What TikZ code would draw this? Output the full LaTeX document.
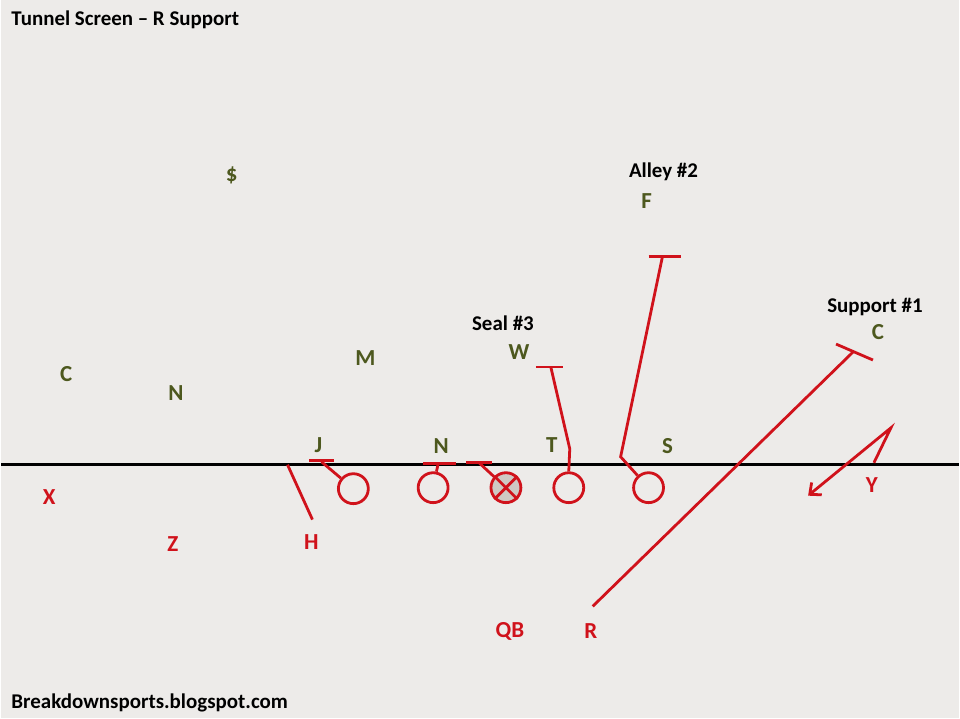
\documentclass[tikz,border=0pt]{standalone}
\usepackage{fontspec}
\setmainfont{Carlito}
\usetikzlibrary{calc}
\usetikzlibrary{positioning}
\usetikzlibrary{arrows.meta}

\definecolor{fieldbg}{HTML}{EDEBE9}
\definecolor{offred}{HTML}{D0121B}
\definecolor{defgreen}{HTML}{4D581E}
\definecolor{ctrfill}{HTML}{CFC9C4}

\tikzset{
  off/.style={text=offred, font=\bfseries\fontsize{23}{23}\selectfont, inner sep=0pt, yshift=-2pt},
  def/.style={text=defgreen, font=\bfseries\fontsize{23}{23}\selectfont, inner sep=0pt, yshift=-2pt},
  note/.style={text=black, font=\bfseries\fontsize{21}{21}\selectfont, inner sep=0pt, yshift=-2pt},
  lineman/.style={circle, draw=offred, line width=2.8pt, minimum size=30pt, inner sep=0pt},
  route/.style={draw=offred, line width=2.8pt},
}

\begin{document}
\begin{tikzpicture}[x=1pt, y=-1pt]
\fill[fieldbg] (0,0) rectangle (960,720);

% line of scrimmage
\draw[line width=2.6pt] (0,466) -- (960,466);

\node[note, anchor=west] (title) at (10,18) {Tunnel Screen -- R Support};
\node[note, anchor=west] (site) at (10,703) {Breakdownsports.blogspot.com};

% defense
\node[def] (defSafety) at (231,174) {\$};
\node[def] (defCL) at (65,373) {C};
\node[def] (defNL) at (175,392) {N};
\node[def] (defM) at (365,357) {M};
\node[def] (defJ) at (318,444) {J};
\node[def] (defN) at (441,445) {N};
\node[def] (defT) at (552,444) {T};
\node[def] (defS) at (668,445) {S};
\node[def] (defW) at (519,351) {W};
\node[def] (defF) at (647,200) {F};
\node[def] (defCR) at (879,331) {C};

\node[note] (alley) at (664,170) {Alley \#2};
\node[note] (seal) at (503,322) {Seal \#3};
\node[note] (support) at (876,306) {Support \#1};

% offense
\node[off] (offX) at (48,496) {X};
\node[off] (offZ) at (172,544) {Z};
\node[off] (offH) at (311,542) {H};
\node[off] (offQB) at (510,631) {QB};
\node[off] (offR) at (591,631) {R};
\node[off] (offY) at (873,484) {Y};

\node[lineman] (lt) at (353,490) {};
\node[lineman] (lg) at (433,489) {};
\node[lineman, fill=ctrfill] (ctr) at (506,489) {};
\node[lineman] (rg) at (569,489) {};
\node[lineman] (rt) at (649,489) {};
\draw[route] (ctr.45) -- (ctr.225) (ctr.135) -- (ctr.-45);

% blocks
\coordinate (ltBlk) at (321,463);
\draw[route] (lt) -- (ltBlk);
\draw[route] (309,462) -- (334,462);

\coordinate (lgBlk) at (438,465);
\draw[route] (lg) -- (lgBlk);
\draw[route] (423,465) -- (456,465);

\coordinate (ctrBlk) at (479,464);
\draw[route] (ctr) -- (ctrBlk);
\draw[route] (466,464) -- (492,464);

\coordinate (rgKnee) at (570,450);
\coordinate (rgBlk) at (551,368);
\draw[route] (rg.north) -- (rgKnee) -- (rgBlk);
\draw[route] (536,368) -- (563,368);

\coordinate (rtKnee) at (621,458);
\coordinate (rtBlk) at (663,257);
\draw[route] (rt) -- (rtKnee) -- (rtBlk);
\draw[route] (649,257) -- (682,257);

% H, R and Y
\coordinate (hTop) at (287,466);
\coordinate (hEnd) at (312,521);
\draw[route] (hTop) -- (hEnd);

\coordinate (rStart) at (593,608);
\coordinate (rBlk) at (855,352);
\draw[route] (rStart) -- (rBlk);
\draw[route] (837,345) -- (874,361);

\coordinate (yStart) at (875,464);
\coordinate (yTurn) at (892,429);
\coordinate (yEnd) at (809,497);
\draw[route, -{Straight Barb[length=9pt, width=16pt]}] (yStart) -- (yTurn) -- (yEnd);

\end{tikzpicture}
\end{document}
